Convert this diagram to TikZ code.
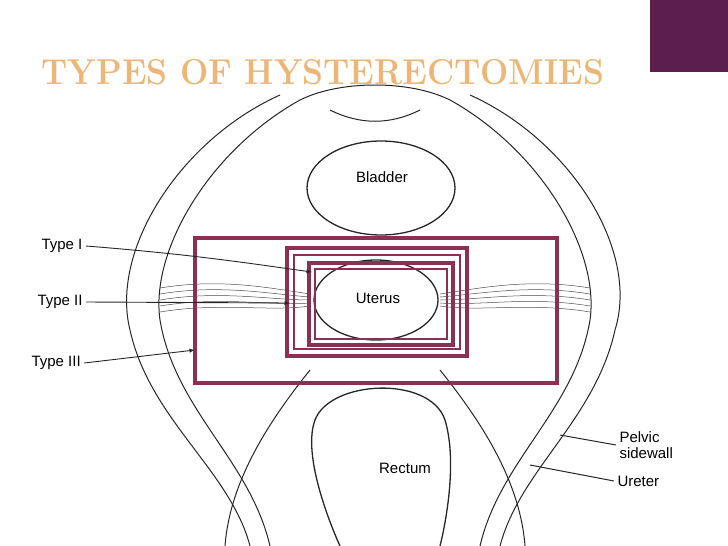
\documentclass[tikz,border=0pt]{standalone}
\usepackage{fontspec}
\setsansfont{Liberation Sans}
\begin{document}
\begin{tikzpicture}[x=1pt,y=-1pt,
  box/.style={draw=boxc,line width=3.5pt},
  ink/.style={draw=black!85,line width=1pt},
  lab/.style={font=\sffamily\fontsize{15}{16}\selectfont,anchor=west},
  arr/.style={ink,-latex,line width=0.9pt}]
\definecolor{boxc}{HTML}{8C2F52}
\definecolor{sq}{HTML}{5C1E4C}
\definecolor{tit}{HTML}{EDB676}
\useasboundingbox (0,0) rectangle (728,546);
\fill[sq] (650,0) rectangle (728,72);
\node[font=\bfseries\fontsize{36}{36}\selectfont,text=tit,draw=none,xscale=0.93] (title) at (323,72) {TYPES OF HYSTERECTOMIES};
% pelvic walls
\draw[ink] (280,95) .. controls (180,140) and (110,250) .. (130,330) .. controls (150,420) and (230,470) .. (250,546);
\draw[ink] (300,100) .. controls (210,150) and (150,250) .. (160,320) .. controls (175,410) and (250,460) .. (270,546);
\draw[ink] (470,95) .. controls (570,140) and (640,250) .. (615,330) .. controls (595,420) and (520,470) .. (500,546);
\draw[ink] (450,100) .. controls (540,150) and (600,250) .. (590,320) .. controls (575,410) and (500,460) .. (480,546);
\draw[ink] (300,100) .. controls (340,80) and (410,80) .. (450,100);
\draw[ink] (330,110) .. controls (360,125) and (390,125) .. (420,110);
% ureters
\draw[ink] (310,370) .. controls (270,420) and (230,480) .. (225,546);
\draw[ink] (440,370) .. controls (480,420) and (520,480) .. (525,546);
% ligaments
\foreach \d in {-12,-6,0,6,12} {
  \draw[black!70,line width=0.5pt] (160,300+\d) .. controls (220,290+\d) and (270,300+\d) .. (310,300+\d/2);
  \draw[black!70,line width=0.5pt] (590,300+\d) .. controls (530,290+\d) and (480,300+\d) .. (440,300+\d/2);
}
% organs
\draw[ink,line width=1.3pt] (381,188) ellipse [x radius=74,y radius=47];
\node[font=\sffamily\fontsize{15}{15}\selectfont] (bladder) at (382,177) {Bladder};
\draw[ink,line width=1.3pt] (376,300) ellipse [x radius=62,y radius=40];
\node[font=\sffamily\fontsize{15}{15}\selectfont] (uterus) at (378,298) {Uterus};
\draw[ink,line width=1.3pt] (315,420) .. controls (330,380) and (430,375) .. (445,420) .. controls (460,470) and (440,546) .. (440,546);
\draw[ink,line width=1.3pt] (315,420) .. controls (300,460) and (340,546) .. (340,546);
\node[font=\sffamily\fontsize{15}{15}\selectfont] (rectum) at (405,468) {Rectum};
% boxes
\draw[box] (195,238) rectangle (557,383);
\draw[box] (287,248) rectangle (467,356);
\draw[box] (309,263) rectangle (453,345);
\draw[boxc,line width=1.5pt] (315,269) rectangle (447,339);
\draw[boxc,line width=1.5pt] (294,255) rectangle (460,349);
% labels
\node[lab] (t1) at (38,246) {Type I};
\node[lab] (t2) at (34,302) {Type II};
\node[lab] (t3) at (28,363) {Type III};
\coordinate (e1) at (312,272);
\coordinate (e2) at (290,303);
\coordinate (e3) at (195,350);
\draw[arr] (t1.east) .. controls (200,255) and (260,265) .. (e1);
\draw[arr] (t2.east) -- (e2);
\draw[arr] (t3.east) -- (e3);
\node[lab,align=left] (pw) at (616,445) {Pelvic\\sidewall};
\node[lab] (ur) at (614,481) {Ureter};
\coordinate (p1) at (560,435);
\coordinate (u1) at (530,465);
\draw[ink] (pw.west) -- (p1);
\draw[ink] (ur.west) -- (u1);
\end{tikzpicture}
\end{document}
